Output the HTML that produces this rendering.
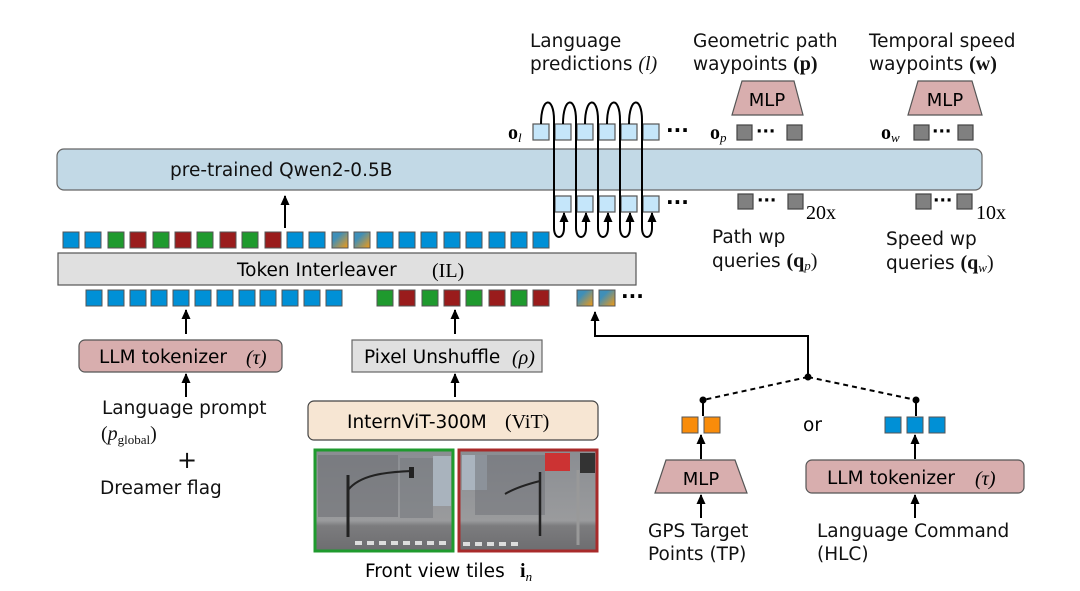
<!DOCTYPE html>
<html><head><meta charset="utf-8"><style>
html,body{margin:0;padding:0;background:#fff;}
svg{display:block;font-family:"DejaVu Sans","Liberation Sans",sans-serif;}
.s{font-family:"Liberation Serif",serif;}
</style></head><body>
<svg width="1080" height="591" viewBox="0 0 1080 591" xmlns="http://www.w3.org/2000/svg">
<defs>
<marker id="a" markerWidth="10" markerHeight="10" refX="9" refY="4.5" orient="auto" markerUnits="userSpaceOnUse" viewBox="0 0 10 9">
<path d="M0,0 L10,4.5 L0,9 Z" fill="#000"/></marker>
<linearGradient id="g" x1="0" y1="0" x2="1" y2="1"><stop offset="0.3" stop-color="#3f8fb8"/><stop offset="1" stop-color="#f59a10"/></linearGradient>
<linearGradient id="sky" x1="0" y1="0" x2="0" y2="1"><stop offset="0" stop-color="#8a8d92"/><stop offset="0.7" stop-color="#9a9b9d"/><stop offset="0.75" stop-color="#7c7c7e"/><stop offset="1" stop-color="#6d6d70"/></linearGradient>
</defs>

<g font-size="18.5" fill="#111">
<text x="530" y="47">Language</text>
<text x="530" y="70">predictions <tspan class="s" font-size="20" font-style="italic">(l)</tspan></text>
<text x="693" y="47">Geometric path</text>
<text x="693" y="70">waypoints <tspan class="s" font-size="20" font-weight="bold">(p)</tspan></text>
<text x="869" y="47">Temporal speed</text>
<text x="869" y="70">waypoints <tspan class="s" font-size="20" font-weight="bold">(w)</tspan></text>
</g>

<path d="M742,81 L794,81 L803,115 L732,115 Z" fill="#d8aeae" stroke="#555" stroke-width="1.2"/>
<text x="767" y="106" font-size="18" text-anchor="middle">MLP</text>
<path d="M918,81 L972,81 L982,115 L908,115 Z" fill="#d8aeae" stroke="#555" stroke-width="1.2"/>
<text x="945" y="106" font-size="18" text-anchor="middle">MLP</text>

<rect x="57" y="149" width="925" height="41" rx="7" fill="#c2d9e6" stroke="#666" stroke-width="1.2"/>
<text x="170" y="176" font-size="18.5" fill="#111">pre-trained Qwen2-0.5B</text>

<text x="508" y="139" class="s" font-size="20" font-weight="bold">o<tspan font-size="13" font-style="italic" font-weight="normal" dy="3">l</tspan></text>
<g fill="#c5e6fa" stroke="#555" stroke-width="1.2">
<rect x="533" y="124" width="16" height="16"/><rect x="555" y="124" width="16" height="16"/><rect x="577" y="124" width="16" height="16"/><rect x="599" y="124" width="16" height="16"/><rect x="621" y="124" width="16" height="16"/><rect x="643" y="124" width="16" height="16"/>
<rect x="555" y="196" width="16" height="16"/><rect x="577" y="196" width="16" height="16"/><rect x="599" y="196" width="16" height="16"/><rect x="621" y="196" width="16" height="16"/><rect x="643" y="196" width="16" height="16"/>
</g>
<text x="666" y="137" font-size="20" font-weight="bold">···</text>
<text x="666" y="209" font-size="20" font-weight="bold">···</text>

<g fill="none" stroke="#000" stroke-width="2">
<path d="M541,124 C541,96 554,96 554,120 L554,228 C554,240 564,240 564,228 L564,213" marker-end="url(#a)"/>
<path d="M563,124 C563,96 576,96 576,120 L576,228 C576,240 586,240 586,228 L586,213" marker-end="url(#a)"/>
<path d="M585,124 C585,96 598,96 598,120 L598,228 C598,240 608,240 608,228 L608,213" marker-end="url(#a)"/>
<path d="M607,124 C607,96 620,96 620,120 L620,228 C620,240 630,240 630,228 L630,213" marker-end="url(#a)"/>
<path d="M629,124 C629,96 642,96 642,120 L642,228 C642,240 652,240 652,228 L652,213" marker-end="url(#a)"/>
</g>

<text x="710" y="139" class="s" font-size="20" font-weight="bold">o<tspan font-size="13" font-style="italic" font-weight="normal" dy="3">p</tspan></text>
<text x="881" y="139" class="s" font-size="20" font-weight="bold">o<tspan font-size="13" font-style="italic" font-weight="normal" dy="3">w</tspan></text>
<g fill="#808080" stroke="#444" stroke-width="1.2">
<rect x="737" y="125" width="15" height="15"/><rect x="787" y="125" width="15" height="15"/>
<rect x="914" y="125" width="15" height="15"/><rect x="958" y="125" width="15" height="15"/>
<rect x="738" y="194" width="15" height="15"/><rect x="788" y="194" width="15" height="15"/>
<rect x="916" y="194" width="15" height="15"/><rect x="957" y="194" width="15" height="15"/>
</g>
<g font-size="17" font-weight="bold">
<text x="756" y="137">···</text><text x="932" y="137">···</text>
<text x="757" y="206">···</text><text x="933" y="206">···</text>
</g>
<text x="806" y="219" class="s" font-size="20">20x</text>
<text x="976" y="219" class="s" font-size="20">10x</text>
<g font-size="18.5" fill="#111">
<text x="712" y="243">Path wp</text>
<text x="712" y="267">queries <tspan class="s" font-size="20" font-weight="bold">(q</tspan><tspan class="s" font-size="13" font-style="italic" dy="3">p</tspan><tspan class="s" font-size="20" dy="-3">)</tspan></text>
<text x="886" y="245">Speed wp</text>
<text x="886" y="269">queries <tspan class="s" font-size="20" font-weight="bold">(q</tspan><tspan class="s" font-size="13" font-style="italic" dy="3">w</tspan><tspan class="s" font-size="20" dy="-3">)</tspan></text>
</g>

<line x1="285" y1="228" x2="285" y2="196" stroke="#000" stroke-width="2" marker-end="url(#a)"/>

<g stroke="#555" stroke-width="1">
<rect x="63" y="232" width="16" height="16" fill="#0090d6"/>
<rect x="85" y="232" width="16" height="16" fill="#0090d6"/>
<rect x="108" y="232" width="16" height="16" fill="#1f9a2e"/>
<rect x="130" y="232" width="16" height="16" fill="#9a1c1c"/>
<rect x="153" y="232" width="16" height="16" fill="#1f9a2e"/>
<rect x="175" y="232" width="16" height="16" fill="#9a1c1c"/>
<rect x="197" y="232" width="16" height="16" fill="#1f9a2e"/>
<rect x="220" y="232" width="16" height="16" fill="#9a1c1c"/>
<rect x="242" y="232" width="16" height="16" fill="#1f9a2e"/>
<rect x="265" y="232" width="16" height="16" fill="#9a1c1c"/>
<rect x="287" y="232" width="16" height="16" fill="#0090d6"/>
<rect x="309" y="232" width="16" height="16" fill="#0090d6"/>
<rect x="332" y="232" width="16" height="16" fill="url(#g)"/>
<rect x="354" y="232" width="16" height="16" fill="url(#g)"/>
<rect x="377" y="232" width="16" height="16" fill="#0090d6"/>
<rect x="399" y="232" width="16" height="16" fill="#0090d6"/>
<rect x="421" y="232" width="16" height="16" fill="#0090d6"/>
<rect x="444" y="232" width="16" height="16" fill="#0090d6"/>
<rect x="466" y="232" width="16" height="16" fill="#0090d6"/>
<rect x="489" y="232" width="16" height="16" fill="#0090d6"/>
<rect x="511" y="232" width="16" height="16" fill="#0090d6"/>
<rect x="533" y="232" width="16" height="16" fill="#0090d6"/>
</g>

<rect x="58" y="253" width="578" height="32" fill="#e0e0e0" stroke="#555" stroke-width="1.2"/>
<text x="237" y="276" font-size="18.5">Token Interleaver</text>
<text x="432" y="277" class="s" font-size="20">(IL)</text>

<g stroke="#555" stroke-width="1">
<rect x="86" y="290" width="16" height="16" fill="#0090d6"/>
<rect x="108" y="290" width="16" height="16" fill="#0090d6"/>
<rect x="130" y="290" width="16" height="16" fill="#0090d6"/>
<rect x="151" y="290" width="16" height="16" fill="#0090d6"/>
<rect x="173" y="290" width="16" height="16" fill="#0090d6"/>
<rect x="195" y="290" width="16" height="16" fill="#0090d6"/>
<rect x="217" y="290" width="16" height="16" fill="#0090d6"/>
<rect x="239" y="290" width="16" height="16" fill="#0090d6"/>
<rect x="260" y="290" width="16" height="16" fill="#0090d6"/>
<rect x="282" y="290" width="16" height="16" fill="#0090d6"/>
<rect x="304" y="290" width="16" height="16" fill="#0090d6"/>
<rect x="326" y="290" width="16" height="16" fill="#0090d6"/>
<rect x="377" y="290" width="16" height="16" fill="#1f9a2e"/>
<rect x="399" y="290" width="16" height="16" fill="#9a1c1c"/>
<rect x="422" y="290" width="16" height="16" fill="#1f9a2e"/>
<rect x="444" y="290" width="16" height="16" fill="#9a1c1c"/>
<rect x="466" y="290" width="16" height="16" fill="#1f9a2e"/>
<rect x="489" y="290" width="16" height="16" fill="#9a1c1c"/>
<rect x="511" y="290" width="16" height="16" fill="#1f9a2e"/>
<rect x="533" y="290" width="16" height="16" fill="#9a1c1c"/>
<rect x="577" y="290" width="16" height="16" fill="url(#g)"/>
<rect x="599" y="290" width="16" height="16" fill="url(#g)"/>
</g>
<text x="621" y="303" font-size="20" font-weight="bold">···</text>

<g stroke="#000" stroke-width="2">
<line x1="186" y1="334" x2="186" y2="310" marker-end="url(#a)"/>
<line x1="186" y1="397" x2="186" y2="374" marker-end="url(#a)"/>
<line x1="455" y1="334" x2="455" y2="310" marker-end="url(#a)"/>
<line x1="455" y1="397" x2="455" y2="374" marker-end="url(#a)"/>
</g>
<rect x="79" y="340" width="203" height="32" rx="6" fill="#d8aeae" stroke="#555" stroke-width="1.2"/>
<text x="99" y="363" font-size="18.5">LLM tokenizer</text>
<text x="246" y="364" class="s" font-size="20" font-style="italic">(τ)</text>
<rect x="352" y="340" width="190" height="32" fill="#e0e0e0" stroke="#666" stroke-width="1.2"/>
<text x="364" y="363" font-size="18.5">Pixel Unshuffle</text>
<text x="512" y="364" class="s" font-size="20" font-style="italic">(ρ)</text>
<rect x="308" y="401" width="290" height="39" rx="6" fill="#f7e6d3" stroke="#444" stroke-width="1.2"/>
<text x="347" y="428" font-size="18.5">InternViT-300M</text>
<text x="505" y="428" class="s" font-size="20">(ViT)</text>

<g font-size="18.5" fill="#111">
<text x="102" y="414">Language prompt</text>
<text x="101" y="440" class="s" font-size="20">(<tspan font-style="italic">p</tspan><tspan font-size="13" dy="4">global</tspan><tspan dy="-4">)</tspan></text>
<text x="187" y="468" font-size="24" text-anchor="middle">+</text>
<text x="100" y="494">Dreamer flag</text>
</g>

<g>
<rect x="315" y="450" width="138" height="101" fill="url(#sky)" stroke="#1f9a2e" stroke-width="3"/>
<rect x="318" y="455" width="80" height="62" fill="#6e7075" opacity="0.6"/>
<rect x="400" y="458" width="33" height="60" fill="#77797e" opacity="0.6"/>
<rect x="433" y="456" width="18" height="50" fill="#a9b3bd"/>
<line x1="348" y1="475" x2="348" y2="537" stroke="#222" stroke-width="3"/>
<path d="M348,490 C360,475 385,472 412,471" stroke="#222" stroke-width="2" fill="none"/>
<rect x="409" y="467" width="5" height="11" fill="#222"/>
<path d="M355,543 L450,543" stroke="#ddd" stroke-width="4" stroke-dasharray="7,5"/>
<rect x="459" y="450" width="138" height="101" fill="url(#sky)" stroke="#a82a2a" stroke-width="3"/>
<rect x="462" y="455" width="25" height="35" fill="#aab4bf"/>
<rect x="475" y="455" width="70" height="60" fill="#6e7075" opacity="0.5"/>
<rect x="545" y="453" width="25" height="18" fill="#c33"/>
<rect x="580" y="453" width="15" height="20" fill="#333"/>
<line x1="540" y1="472" x2="540" y2="536" stroke="#222" stroke-width="2.5"/>
<line x1="578" y1="470" x2="578" y2="545" stroke="#999" stroke-width="3"/>
<path d="M540,481 C528,484 515,488 505,494" stroke="#222" stroke-width="2" fill="none"/>
<path d="M463,544 L520,544" stroke="#ddd" stroke-width="4" stroke-dasharray="7,5"/>
</g>
<text x="365" y="577" font-size="18.5">Front view tiles</text>
<text x="520" y="577" class="s" font-size="20" font-weight="bold">i<tspan font-size="13" font-style="italic" font-weight="normal" dy="4">n</tspan></text>

<path d="M808,377 L808,336 L595,336 L595,312" fill="none" stroke="#000" stroke-width="2" marker-end="url(#a)"/>
<g stroke="#000" stroke-width="2" stroke-dasharray="5,4">
<line x1="808" y1="377" x2="703" y2="400"/>
<line x1="808" y1="377" x2="916" y2="400"/>
</g>
<circle cx="808" cy="377" r="3.5"/><circle cx="703" cy="400" r="3.5"/><circle cx="916" cy="400" r="3.5"/>
<g stroke="#000" stroke-width="2">
<line x1="703" y1="400" x2="703" y2="416"/>
<line x1="916" y1="400" x2="916" y2="416"/>
<line x1="701" y1="459" x2="701" y2="435" marker-end="url(#a)"/>
<line x1="915" y1="459" x2="915" y2="435" marker-end="url(#a)"/>
<line x1="701" y1="518" x2="701" y2="495" marker-end="url(#a)"/>
<line x1="915" y1="518" x2="915" y2="495" marker-end="url(#a)"/>
</g>
<g stroke="#555" stroke-width="1">
<rect x="682" y="417" width="16" height="16" fill="#f98c0a"/>
<rect x="704" y="417" width="16" height="16" fill="#f98c0a"/>
<rect x="885" y="417" width="16" height="16" fill="#0090d6"/>
<rect x="907" y="417" width="16" height="16" fill="#0090d6"/>
<rect x="929" y="417" width="16" height="16" fill="#0090d6"/>
</g>
<text x="803" y="431" font-size="18.5">or</text>
<path d="M666,460 L735,460 L747,493 L655,493 Z" fill="#d8aeae" stroke="#555" stroke-width="1.2"/>
<text x="701" y="485" font-size="18" text-anchor="middle">MLP</text>
<rect x="806" y="460" width="218" height="33" rx="6" fill="#d8aeae" stroke="#555" stroke-width="1.2"/>
<text x="827" y="484" font-size="18.5">LLM tokenizer</text>
<text x="975" y="485" class="s" font-size="20" font-style="italic">(τ)</text>
<g font-size="18.5" fill="#111">
<text x="648" y="537">GPS Target</text>
<text x="648" y="560">Points (TP)</text>
<text x="817" y="537">Language Command</text>
<text x="817" y="560">(HLC)</text>
</g>
</svg>
</body></html>
